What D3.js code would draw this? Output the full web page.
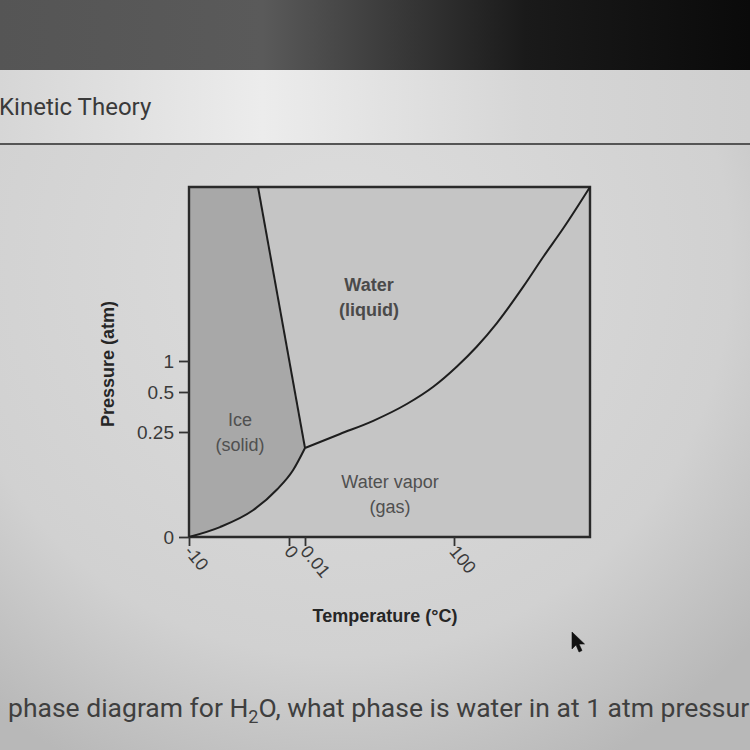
<!DOCTYPE html>
<html>
<head>
<meta charset="utf-8">
<script src="https://cdn.jsdelivr.net/npm/d3@7"></script>
<style>
  html, body { margin: 0; padding: 0; background: #d4d4d4; }
  svg { display: block; }
</style>
</head>
<body>
<svg id="chart" width="750" height="750"></svg>
<script>
// ---- data ----
const xTicks = [-10, 0, 0.01, 100];
const xTickLabels = ["-10", "0", "0.01", "100"];
const yTicks = [0, 0.25, 0.5, 1];
const yTickLabels = ["0", "0.25", "0.5", "1"];
// sublimation curve (ice / vapor)
const sublimationT = [-10, -6.9, -3.6, -1.2, 0.0025, 0.01];
const sublimationP = [0, 0.00067, 0.0018, 0.0032, 0.0045, 0.006];
// vaporization curve (liquid / vapor) up to the critical point
const vaporT = [0.01, 23.5, 45.8, 68.3, 86.1, 105.4, 145.7, 186, 239.6, 280, 320.2, 374];
const vaporP = [0.006, 0.22, 0.32, 0.425, 0.585, 0.908, 18.8, 48, 93.7, 131, 166.5, 218];
// melting line (ice / liquid)
const meltT = [0.01, -3.1];
const meltP = [0.006, 218];
const phaseNames = [["Water", "(liquid)"], ["Ice", "(solid)"], ["Water vapor", "(gas)"]];

// ---- drawing ----
const svg = d3.select("#chart");
const defs = svg.append("defs");

const bg = defs.append("radialGradient").attr("id", "bg").attr("cx", "45%").attr("cy", "35%").attr("r", "75%");
bg.append("stop").attr("offset", "0%").attr("stop-color", "#dddddd");
bg.append("stop").attr("offset", "70%").attr("stop-color", "#d1d1d1");
bg.append("stop").attr("offset", "100%").attr("stop-color", "#b8b8b8");

const band = defs.append("linearGradient").attr("id", "band").attr("x1", "0").attr("x2", "1");
band.append("stop").attr("offset", "0%").attr("stop-color", "#555");
band.append("stop").attr("offset", "35%").attr("stop-color", "#5a5a5a");
band.append("stop").attr("offset", "70%").attr("stop-color", "#1a1a1a");
band.append("stop").attr("offset", "100%").attr("stop-color", "#0a0a0a");

const glare = defs.append("linearGradient").attr("id", "glare").attr("x1", "0").attr("x2", "1");
glare.append("stop").attr("offset", "0%").attr("stop-color", "#d6d6d6");
glare.append("stop").attr("offset", "35%").attr("stop-color", "#ececec");
glare.append("stop").attr("offset", "70%").attr("stop-color", "#d6d6d6");
glare.append("stop").attr("offset", "100%").attr("stop-color", "#cfcfcf");

svg.append("rect").attr("width", 750).attr("height", 750).attr("fill", "url(#bg)");
svg.append("rect").attr("y", 70).attr("width", 750).attr("height", 75).attr("fill", "url(#glare)");
svg.append("rect").attr("width", 750).attr("height", 70).attr("fill", "url(#band)");

// header
svg.append("text").attr("x", -1).attr("y", 115)
  .attr("font-family", "Roboto").attr("font-size", 24).attr("fill", "#3a3a3a")
  .text("Kinetic Theory");
svg.append("line").attr("x1", 0).attr("x2", 750).attr("y1", 144).attr("y2", 144)
  .attr("stroke", "#555").attr("stroke-width", 2);

// scales (schematic, piecewise)
const x = d3.scaleLinear().domain([-10, 0, 0.01, 100, 374]).range([189, 289, 305, 454, 590]);
const y = d3.scaleLinear().domain([0, 0.006, 0.25, 0.5, 1, 218]).range([537, 448, 432, 392, 361, 187]);

const tMin = -10, tMax = 374, pMin = 0, pMax = 218;

// plot background
svg.append("rect")
  .attr("x", x(tMin)).attr("y", y(pMax))
  .attr("width", x(tMax) - x(tMin)).attr("height", y(pMin) - y(pMax))
  .attr("fill", "#c5c5c5");

const line = d3.line().x(d => x(d[0])).y(d => y(d[1])).curve(d3.curveMonotoneX);
const sublimation = sublimationT.map((t, i) => [t, sublimationP[i]]);
const vapor = vaporT.map((t, i) => [t, vaporP[i]]);
const melt = meltT.map((t, i) => [t, meltP[i]]);

// ice region
const icePath = line(sublimation) +
  "L" + x(melt[1][0]) + "," + y(melt[1][1]) +
  "L" + x(tMin) + "," + y(pMax) + "Z";
svg.append("path").attr("d", icePath).attr("fill", "#a8a8a8");

// frame
svg.append("path")
  .attr("d", `M${x(tMin)},${y(pMin)}V${y(pMax)}H${x(tMax)}V${y(pMin)}H${x(tMin)}`)
  .attr("fill", "none").attr("stroke", "#2a2a2a").attr("stroke-width", 2.4);

// phase boundaries
const curveStyle = s => s.attr("fill", "none").attr("stroke", "#1e1e1e").attr("stroke-width", 2);
svg.append("path").attr("d", line(sublimation)).call(curveStyle);
svg.append("path").attr("d", line(vapor)).call(curveStyle);
svg.append("path").attr("d", d3.line().x(d => x(d[0])).y(d => y(d[1]))(melt)).call(curveStyle);

// axes
const yAxis = d3.axisLeft(y).tickValues(yTicks).tickSize(10).tickPadding(5)
  .tickFormat((d, i) => yTickLabels[i]);
const gy = svg.append("g").attr("transform", `translate(${x(tMin)},0)`).call(yAxis);
gy.select(".domain").remove();
gy.selectAll(".tick line").attr("stroke", "#333").attr("stroke-width", 1.8);
gy.selectAll(".tick text").attr("font-family", "Liberation Sans").attr("font-size", 19).attr("fill", "#3a3a3a");

const xAxis = d3.axisBottom(x).tickValues(xTicks).tickSize(9)
  .tickFormat((d, i) => xTickLabels[i]);
const gx = svg.append("g").attr("transform", `translate(0,${y(pMin)})`).call(xAxis);
gx.select(".domain").remove();
gx.selectAll(".tick line").attr("stroke", "#333").attr("stroke-width", 1.8);
gx.selectAll(".tick text")
  .attr("font-family", "Liberation Sans").attr("font-size", 18).attr("fill", "#3a3a3a")
  .attr("text-anchor", "start").attr("dy", null)
  .attr("transform", "translate(-6,15) rotate(50)")
  .attr("y", 0).attr("x", 0);

// axis titles
svg.append("text").attr("transform", "translate(114,364) rotate(-90)")
  .attr("text-anchor", "middle").attr("font-family", "Liberation Sans").attr("font-weight", "bold")
  .attr("font-size", 18).attr("fill", "#262626").text("Pressure (atm)");
svg.append("text").attr("x", 385).attr("y", 622)
  .attr("text-anchor", "middle").attr("font-family", "Liberation Sans").attr("font-weight", "bold")
  .attr("font-size", 18).attr("fill", "#262626").text("Temperature (°C)");

// phase labels
const labelPos = [[369, 291, "bold", "#4a4a4a"], [240, 426, "normal", "#505050"], [390, 488, "normal", "#505050"]];
phaseNames.forEach((lines, i) => {
  const [lx, ly, w, c] = labelPos[i];
  const t = svg.append("text").attr("text-anchor", "middle")
    .attr("font-family", "Liberation Sans").attr("font-size", 18)
    .attr("font-weight", w).attr("fill", c);
  lines.forEach((s, j) => t.append("tspan").attr("x", lx).attr("y", ly + j * 24.5).text(s));
});

// cursor
svg.append("path")
  .attr("d", "M572,632 l0,17 l4,-4 l3,7 l3,-1.5 l-3,-6.5 l5.5,0 Z")
  .attr("fill", "#111").attr("stroke", "#111").attr("stroke-width", 0.6);

// question text
const q = svg.append("text").attr("x", 8).attr("y", 717)
  .attr("font-family", "Roboto").attr("font-size", 26.5).attr("fill", "#3f3f3f");
q.append("tspan").text("phase diagram for H");
q.append("tspan").attr("font-size", 18).attr("dy", 6).text("2");
q.append("tspan").attr("dy", -6).text("O, what phase is water in at 1 atm pressur");
</script>
</body>
</html>
